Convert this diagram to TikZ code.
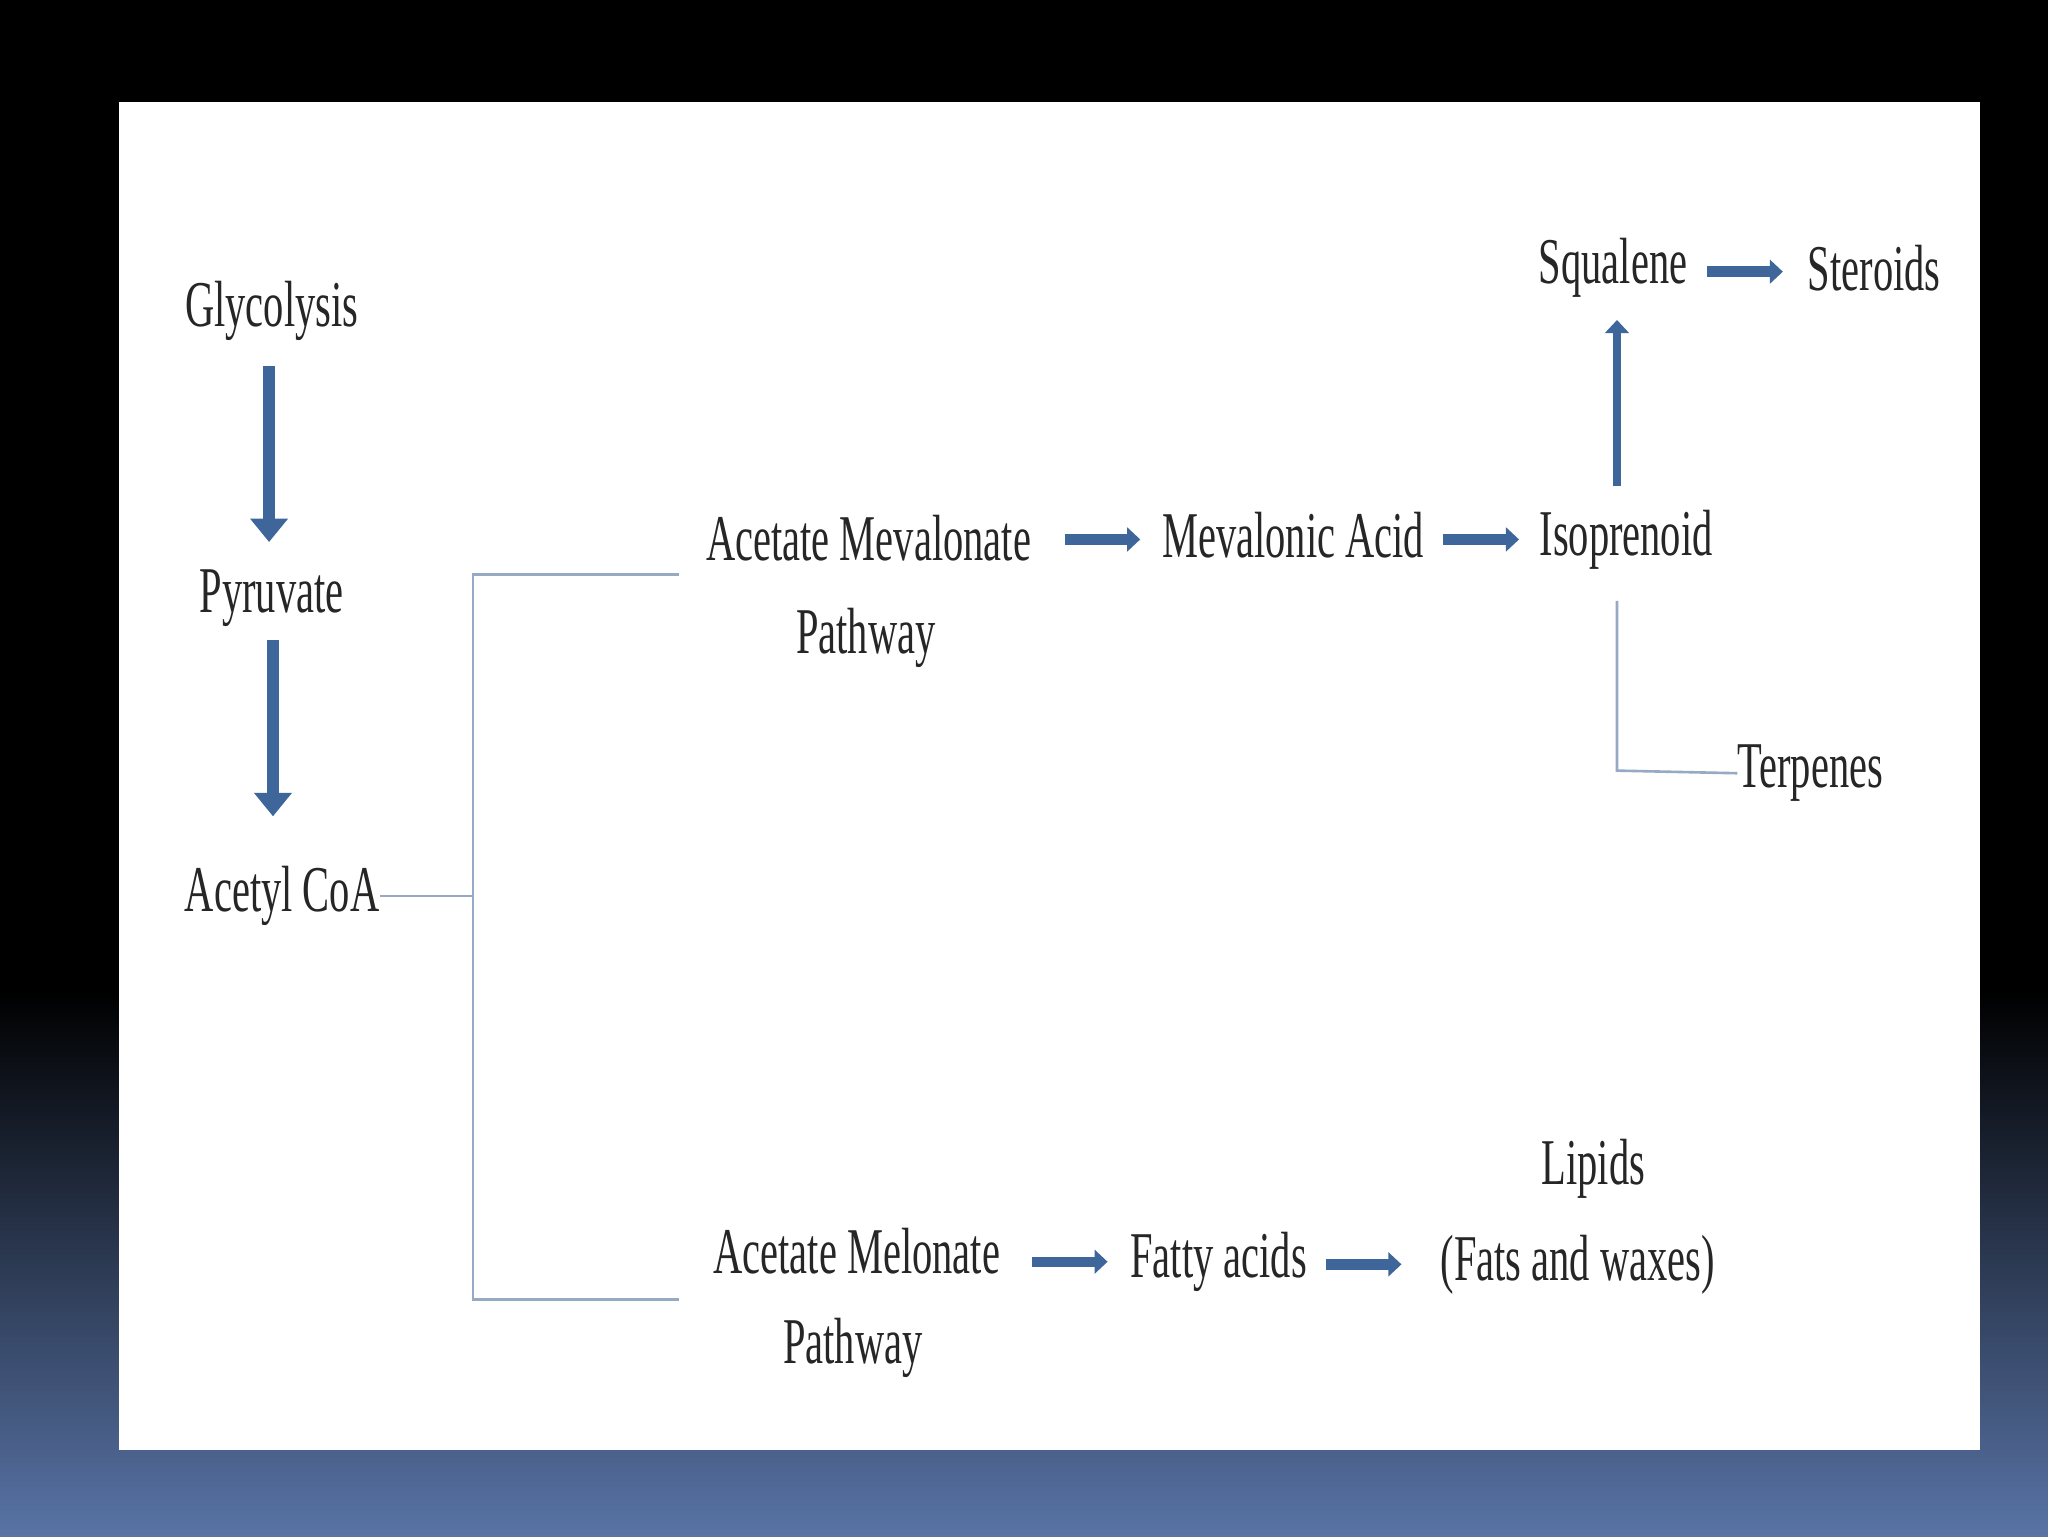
\documentclass[tikz,border=0pt]{standalone}
\usepackage{fontspec}
\newfontfamily\cf[FakeStretch=0.62]{Liberation Serif}
\usetikzlibrary{arrows.meta}
\definecolor{arr}{RGB}{62,102,155}
\definecolor{brk}{RGB}{150,170,195}
\tikzset{lbl/.style={font=\cf\fontsize{50}{56}\selectfont, text=black!85, inner sep=0pt, align=center},
 bigarr/.style={draw=arr, line width=9pt, -{Triangle[length=18pt,width=28pt]}},
 harr/.style={draw=arr, line width=8pt, -{Triangle[length=10pt,width=18pt]}},
 brl/.style={draw=brk, line width=2pt}}
\begin{document}
\begin{tikzpicture}[x=1pt,y=-1pt]
\useasboundingbox (0,0) rectangle (1568,1176);
\fill (0,0) rectangle (1568,760);
\shade[top color=black, bottom color={rgb,255:red,88;green,115;blue,165}] (0,759) rectangle (1568,1176);
\fill[white] (91,78) rectangle (1516,1110);
\node[lbl] (gly) at (208,238) {Glycolysis};
\node[lbl] (pyr) at (208,458) {Pyruvate};
\node[lbl] (acc) at (216,686) {Acetyl CoA};
\draw[bigarr] (206,280) -- (206,415);
\draw[bigarr] (209,490) -- (209,625);
\coordinate (j) at (362,686);
\coordinate (t) at (362,440);
\coordinate (b) at (362,995);
\coordinate (te) at (520,440);
\coordinate (be) at (520,995);
\draw[brl] (acc.east) -- (j);
\draw[brl] (te) -- (t) -- (b) -- (be);
\node[lbl] (amv) at (665,412) {Acetate Mevalonate};
\node[lbl] (amvp) at (663,488) {Pathway};
\node[lbl] (mva) at (990,410) {Mevalonic Acid};
\node[lbl] (iso) at (1245,413) {Isoprenoid};
\node[lbl] (sq) at (1235,205) {Squalene};
\node[lbl] (st) at (1435,205) {Steroids};
\node[lbl] (ter) at (1386,592) {Terpenes};
\draw[harr] (815,413) -- (873,413);
\draw[harr] (1105,413) -- (1163,413);
\draw[harr, line width=6pt] (1238,372) -- (1238,245);
\draw[harr] (1307,208) -- (1365,208);
\coordinate (tc) at (1238,590);
\draw[brl] (1238,460) -- (tc) -- (ter.west);
\node[lbl] (aml) at (656,958) {Acetate Melonate};
\node[lbl] (amlp) at (653,1032) {Pathway};
\node[lbl] (fa) at (933,966) {Fatty acids};
\node[lbl] (lip) at (1220,895) {Lipids};
\node[lbl] (fw) at (1208,968) {(Fats and waxes)};
\draw[harr] (790,966) -- (848,966);
\draw[harr] (1015,968) -- (1073,968);
\end{tikzpicture}
\end{document}
